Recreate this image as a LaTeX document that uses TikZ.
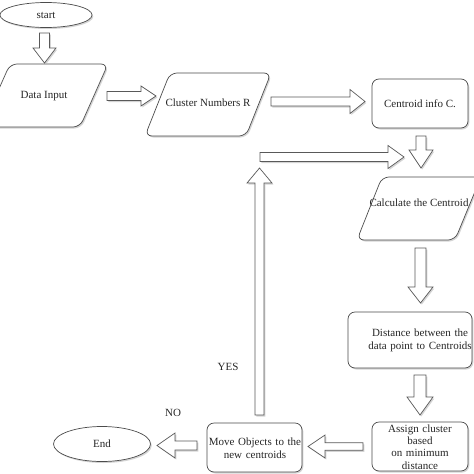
\documentclass[tikz,border=0pt]{standalone}
\usepackage{fontspec}
\setmainfont{Liberation Serif}
\usetikzlibrary{calc,shadows,shapes.geometric}

\tikzset{
  shd/.style={drop shadow={shadow xshift=1.3pt, shadow yshift=-1.5pt, fill=black!28, opacity=0.6}},
  box/.style={draw=black!70, line width=0.7pt, fill=white, rounded corners=7pt, shd},
  oval/.style={ellipse, draw=black!70, line width=0.7pt, fill=white, shd, inner sep=0pt,
     font=\fontsize{11}{13}\selectfont, text=black!85},
  lbl/.style={font=\fontsize{11}{13}\selectfont, text=black!85, align=center, inner sep=0pt},
  mlbl/.style={lbl, text width=#1},
  barrow/.style={draw=black!65, line width=0.7pt, fill=white, line join=miter, shd},
}

\newcommand{\blockarrow}[5]{%
  \path (#1) coordinate (ba-s) ($(#2)!#5!(#1)$) coordinate (ba-h);
  \path[barrow] ($(ba-s)!#3!90:(ba-h)$) -- ($(ba-h)!#3!-90:(ba-s)$)
    -- ($(ba-h)!#4!-90:(ba-s)$) -- (#2) -- ($(ba-h)!#4!90:(ba-s)$)
    -- ($(ba-h)!#3!90:(ba-s)$) -- ($(ba-s)!#3!-90:(ba-h)$) -- cycle;
}

\begin{document}
\begin{tikzpicture}[x=1pt,y=-1pt]
\useasboundingbox (0,0) rectangle (474,474);
\clip (0,0) rectangle (474,474);
\fill[white] (0,0) rectangle (474,474);

% shapes and labels
\node[oval, minimum width=92pt, minimum height=25pt] (start) at (46,15) {start};

\path[box] (10,64) -- (108,64) -- (80,127) -- (-18,127) -- cycle;
\node[lbl] (data) at (44,96) {Data Input};

\path[box] (170,73) -- (271,73) -- (246,136) -- (145,136) -- cycle;
\node[lbl] (clus) at (208,103) {Cluster Numbers R};

\path[box] (372,79) rectangle (468,128);
\node[lbl] (cinfo) at (420,104) {Centroid info C.};

\path[box] (382,177) -- (481,177) -- (455,240) -- (357,240) -- cycle;
\node[lbl] (calc) at (419,203) {Calculate the Centroid};

\path[box] (348,312) rectangle (472,368);
\node[mlbl=120pt] (dist) at (420,340) {Distance between the\\data point to Centroids};

\path[box] (372,422) rectangle (468,471);
\node[mlbl=100pt, font=\fontsize{11}{12.3}\selectfont] (assign) at (420,447) {Assign cluster\\based\\on minimum\\distance};

\path[box] (207,423) rectangle (302,472);
\node[mlbl=100pt] (move) at (255,448) {Move Objects to the\\new centroids};

\node[oval, minimum width=97pt, minimum height=35pt] (end) at (102,444) {End};

\node[lbl] (yes) at (228,367) {YES};
\node[lbl] (no) at (173,413) {NO};

% connector end points
\coordinate (a1s) at (44.5,33);   \coordinate (a1e) at (44.5,63);
\coordinate (a2s) at (107,96);    \coordinate (a2e) at (156,96);
\coordinate (a3s) at (271,101.5); \coordinate (a3e) at (365,101.5);
\coordinate (a4s) at (421,136);   \coordinate (a4e) at (421,168);
\coordinate (a5s) at (260,157);   \coordinate (a5e) at (404,157);
\coordinate (a6s) at (259.5,415); \coordinate (a6e) at (259.5,168);
\coordinate (a7s) at (420.5,248); \coordinate (a7e) at (420.5,303);
\coordinate (a8s) at (420,375);   \coordinate (a8e) at (420,415);
\coordinate (a9s) at (363,446.5); \coordinate (a9e) at (308,446.5);
\coordinate (a10s) at (197,445.5); \coordinate (a10e) at (157,445.5);

\blockarrow{a1s}{a1e}{5pt}{11.5pt}{15pt}
\blockarrow{a2s}{a2e}{4.5pt}{10pt}{15pt}
\blockarrow{a3s}{a3e}{4.5pt}{12pt}{15pt}
\blockarrow{a4s}{a4e}{5pt}{12pt}{18pt}
\blockarrow{a5s}{a5e}{4.5pt}{11.5pt}{16pt}
\blockarrow{a6s}{a6e}{4.5pt}{12.5pt}{15pt}
\blockarrow{a7s}{a7e}{5.5pt}{12.5pt}{16pt}
\blockarrow{a8s}{a8e}{6pt}{13pt}{18pt}
\blockarrow{a9s}{a9e}{3.75pt}{11.5pt}{17pt}
\blockarrow{a10s}{a10e}{4.5pt}{12.5pt}{18pt}
\end{tikzpicture}
\end{document}
